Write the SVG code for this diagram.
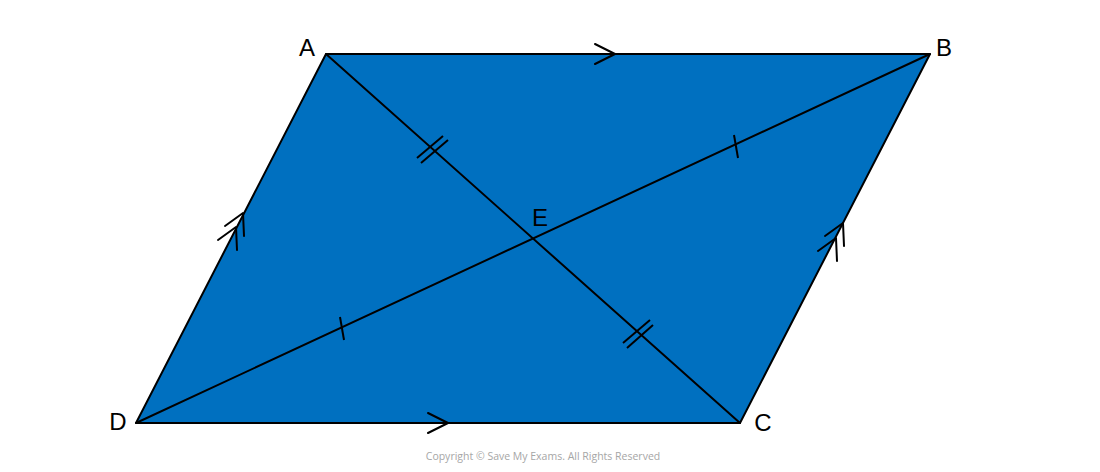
<svg xmlns="http://www.w3.org/2000/svg" width="1100" height="472" viewBox="0 0 1100 472">
<style>
.lbl{font-family:"Liberation Sans","DejaVu Sans",sans-serif;font-size:24px;fill:#000}
.ln{stroke:#000;stroke-width:2;fill:none;stroke-linecap:round;stroke-linejoin:round}
.tk{stroke:#000;stroke-width:2;fill:none}
.copy{font-family:"Open Sans","Liberation Sans",sans-serif;font-size:10.5px;fill:#a6a6a6}
</style>
<rect width="1100" height="472" fill="#fff"/>
<g id="shape">
<polygon points="326,54 930,54 740,423 136,423" fill="#0070c0" stroke="#000" stroke-width="2" stroke-linejoin="round"/>
</g>
<g id="connectors">
<line class="ln" x1="326" y1="54" x2="740" y2="423"/>
<line class="ln" x1="136" y1="423" x2="930" y2="54"/>
<polyline class="ln" points="595,44 615,54 595,64"/>
<polyline class="ln" points="428,413 448,423 428,433"/>
<polyline class="ln" points="225,226 243,213 244,236"/>
<polyline class="ln" points="218,240 236,227 237,250"/>
<polyline class="ln" points="825,236 843,223 844,246"/>
<polyline class="ln" points="818,251 836,238 837,261"/>
<line class="tk" x1="417" y1="158" x2="443" y2="136"/>
<line class="tk" x1="421" y1="163" x2="448" y2="140"/>
<line class="tk" x1="623" y1="343" x2="650" y2="320"/>
<line class="tk" x1="627" y1="348" x2="653" y2="325"/>
<line class="tk" x1="340" y1="317" x2="344" y2="340"/>
<line class="tk" x1="734" y1="135" x2="738" y2="158"/>
</g>
<g id="A"><text class="lbl" x="307" y="56" text-anchor="middle">A</text></g>
<g id="B"><text class="lbl" x="944" y="56" text-anchor="middle">B</text></g>
<g id="C"><text class="lbl" x="763" y="431" text-anchor="middle">C</text></g>
<g id="D"><text class="lbl" x="118" y="430" text-anchor="middle">D</text></g>
<g id="E"><text class="lbl" x="540" y="226" text-anchor="middle">E</text></g>
<text class="copy" x="543" y="460" text-anchor="middle">Copyright © Save My Exams. All Rights Reserved</text>
</svg>
